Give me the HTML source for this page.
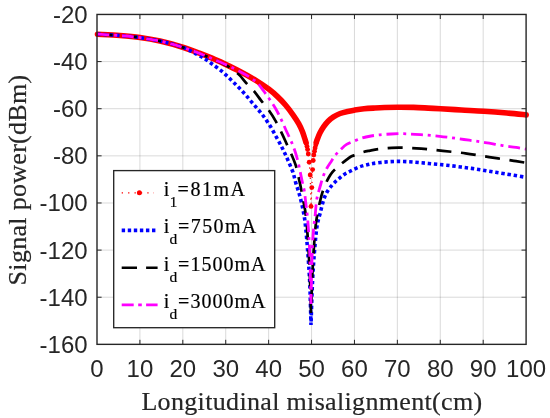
<!DOCTYPE html>
<html><head><meta charset="utf-8"><style>
html,body{margin:0;padding:0;background:#fff;}
svg{display:block;}
</style></head><body>
<svg width="550" height="418" viewBox="0 0 550 418">
<rect width="550" height="418" fill="#fff"/>
<g stroke="#262626" stroke-opacity="0.17" stroke-width="1" fill="none"><line x1="139.91" y1="14" x2="139.91" y2="344.5"/><line x1="182.82" y1="14" x2="182.82" y2="344.5"/><line x1="225.73" y1="14" x2="225.73" y2="344.5"/><line x1="268.64" y1="14" x2="268.64" y2="344.5"/><line x1="311.55" y1="14" x2="311.55" y2="344.5"/><line x1="354.46" y1="14" x2="354.46" y2="344.5"/><line x1="397.37" y1="14" x2="397.37" y2="344.5"/><line x1="440.28" y1="14" x2="440.28" y2="344.5"/><line x1="483.19" y1="14" x2="483.19" y2="344.5"/><line x1="97" y1="61.58" x2="526.1" y2="61.58"/><line x1="97" y1="108.71" x2="526.1" y2="108.71"/><line x1="97" y1="155.84" x2="526.1" y2="155.84"/><line x1="97" y1="202.97" x2="526.1" y2="202.97"/><line x1="97" y1="250.10" x2="526.1" y2="250.10"/><line x1="97" y1="297.23" x2="526.1" y2="297.23"/></g>
<g fill="none" stroke-linecap="butt">
<path d="M97.50,34.20 C101.25,34.42 112.73,34.93 120.00,35.50 C126.87,36.04 133.35,36.57 140.00,37.50 C146.69,38.43 153.10,39.54 160.00,41.10 C167.55,42.80 176.40,45.27 183.50,47.50 C189.53,49.39 194.95,51.49 200.00,53.40 C204.33,55.04 207.94,56.47 212.00,58.20 C216.27,60.02 220.53,62.00 225.00,64.10 C229.84,66.37 235.04,68.81 240.00,71.40 C245.04,74.03 250.15,76.80 255.00,79.80 C259.81,82.77 264.99,86.23 269.00,89.30 C272.27,91.80 274.77,94.01 277.50,96.60 C280.28,99.24 282.95,102.02 285.50,105.00 C288.13,108.07 290.73,111.58 293.00,114.80 C295.09,117.77 297.07,120.67 298.70,123.60 C300.20,126.30 301.48,129.14 302.50,131.70 C303.38,133.90 303.98,136.07 304.60,138.00 C305.12,139.62 305.77,141.75 306.00,142.50" stroke="#ff0000" stroke-width="5.6" stroke-linecap="round" stroke-linejoin="round"/>
<path d="M316.20,142.50 C316.37,142.02 316.76,140.76 317.20,139.60 C317.86,137.84 318.83,135.14 319.90,133.00 C320.99,130.81 322.31,128.59 323.70,126.60 C325.05,124.67 326.47,122.83 328.10,121.20 C329.73,119.57 331.53,118.07 333.50,116.80 C335.52,115.49 337.78,114.39 340.10,113.50 C342.50,112.58 345.20,111.97 347.70,111.40 C350.09,110.85 352.28,110.51 354.80,110.10 C357.66,109.64 360.79,109.14 364.00,108.80 C367.50,108.43 371.47,108.22 375.00,108.00 C378.28,107.79 381.08,107.63 384.50,107.50 C388.52,107.35 393.01,107.22 397.60,107.20 C402.67,107.17 408.39,107.24 413.60,107.40 C418.58,107.55 423.54,107.86 428.20,108.10 C432.48,108.32 435.86,108.53 440.50,108.80 C446.53,109.15 454.24,109.61 461.30,110.00 C468.63,110.41 476.15,110.71 483.70,111.20 C491.42,111.70 499.70,112.35 507.10,113.00 C513.79,113.59 523.02,114.58 526.20,114.90" stroke="#ff0000" stroke-width="5.6" stroke-linecap="round" stroke-linejoin="round"/>
<path d="M309.2,162.2 L310.2,175 L311.0,206.4 L311.8,187.6 L312.6,169.6" stroke="#ff0000" stroke-width="1.2" stroke-dasharray="1.2 4"/>
<g fill="#ff0000" stroke="none"><circle cx="305.6" cy="141.0" r="2.45"/><circle cx="306.3" cy="143.6" r="2.45"/><circle cx="307.0" cy="146.4" r="2.45"/><circle cx="307.6" cy="149.6" r="2.45"/><circle cx="308.3" cy="154.0" r="2.45"/><circle cx="309.2" cy="162.2" r="2.45"/><circle cx="310.2" cy="175" r="2.45"/><circle cx="311.0" cy="206.4" r="2.45"/><circle cx="311.8" cy="187.6" r="2.45"/><circle cx="312.6" cy="169.6" r="2.45"/><circle cx="313.2" cy="160.5" r="2.45"/><circle cx="313.8" cy="155.0" r="2.45"/><circle cx="314.5" cy="151.2" r="2.45"/><circle cx="315.1" cy="148.0" r="2.45"/><circle cx="315.8" cy="145.0" r="2.45"/><circle cx="316.4" cy="142.8" r="2.45"/></g>
<path d="M97.50,34.20 C101.25,34.43 112.73,35.01 120.00,35.60 C126.87,36.16 133.19,36.66 140.00,37.60 C147.18,38.59 154.75,39.83 162.00,41.50 C169.25,43.17 177.24,45.16 183.50,47.60 C188.69,49.62 193.38,52.48 197.20,54.50 C200.00,55.98 202.25,57.15 204.40,58.50 C206.25,59.66 207.74,60.82 209.40,62.00 C211.07,63.19 212.74,64.39 214.40,65.60 C216.07,66.82 217.81,68.05 219.40,69.30 C220.91,70.49 222.28,71.65 223.70,72.90 C225.15,74.18 226.57,75.54 228.00,76.90 C229.44,78.27 230.87,79.69 232.30,81.10 C233.74,82.52 235.16,83.95 236.60,85.40 C238.06,86.88 239.52,88.34 241.00,89.90 C242.55,91.54 244.07,93.15 245.70,95.00 C247.55,97.11 249.56,99.64 251.50,101.90 C253.40,104.11 255.31,106.17 257.20,108.40 C259.15,110.70 261.03,112.87 263.00,115.50 C265.29,118.57 267.85,122.35 270.00,125.80 C272.07,129.12 273.81,132.40 275.70,135.80 C277.64,139.30 279.84,143.27 281.50,146.50 C282.85,149.12 283.84,151.20 285.00,153.70 C286.24,156.36 287.45,159.08 288.70,162.00 C290.08,165.22 291.72,168.72 292.90,172.20 C294.09,175.69 294.74,179.28 295.80,182.90 C296.90,186.67 298.33,190.55 299.40,194.40 C300.46,198.22 301.36,202.06 302.20,205.90 C303.03,209.72 303.80,213.56 304.40,217.40 C305.00,221.20 305.34,224.41 305.80,228.80 C306.42,234.77 307.02,242.32 307.60,250.00 C308.29,259.13 309.06,268.98 309.60,280.00 C310.26,293.48 310.77,317.50 311.00,325.00 C311.27,317.50 311.91,293.48 312.60,280.00 C313.16,268.98 313.77,259.59 314.60,250.00 C315.36,241.15 316.09,231.28 317.30,224.50 C318.12,219.91 319.19,217.03 320.20,213.10 C321.28,208.88 322.39,203.64 323.60,200.00 C324.49,197.30 325.28,195.21 326.40,193.10 C327.44,191.13 328.69,189.41 330.00,187.70 C331.30,186.01 332.71,184.40 334.20,182.90 C335.68,181.40 337.26,180.09 338.90,178.70 C340.62,177.25 342.37,175.67 344.30,174.40 C346.27,173.10 348.51,172.07 350.60,171.00 C352.61,169.97 354.60,168.96 356.60,168.10 C358.53,167.27 360.46,166.50 362.40,165.90 C364.29,165.31 366.28,164.91 368.10,164.50 C369.77,164.12 370.94,163.82 372.90,163.50 C375.92,163.00 380.56,162.45 384.50,162.10 C388.56,161.74 392.77,161.45 396.90,161.40 C401.03,161.35 405.18,161.57 409.30,161.80 C413.41,162.03 417.49,162.43 421.60,162.80 C425.73,163.17 429.87,163.60 434.00,164.00 C438.13,164.40 442.11,164.73 446.40,165.20 C451.05,165.71 456.04,166.37 460.90,167.00 C465.83,167.64 470.84,168.25 475.80,169.00 C480.77,169.75 485.73,170.68 490.70,171.50 C495.67,172.32 500.25,173.02 505.60,173.90 C511.87,174.93 522.60,176.73 526.00,177.30" stroke="#0000ff" stroke-width="3.6" stroke-dasharray="3.4 2.8"/>
<path d="M97.50,34.20 C101.25,34.43 112.73,35.01 120.00,35.60 C126.87,36.16 133.19,36.66 140.00,37.60 C147.18,38.59 154.75,39.83 162.00,41.50 C169.25,43.17 176.38,45.24 183.50,47.60 C190.72,50.00 198.66,53.25 205.00,55.80 C210.10,57.85 214.51,59.64 218.70,61.60 C222.36,63.31 225.64,64.83 228.80,66.80 C231.87,68.71 235.40,71.51 237.40,73.20 C238.56,74.18 238.97,74.60 240.00,75.70 C241.72,77.53 244.19,80.82 246.50,83.40 C248.97,86.15 251.98,88.86 254.40,91.70 C256.73,94.43 258.54,97.18 260.80,100.10 C263.29,103.32 266.22,106.71 268.70,110.20 C271.19,113.71 273.56,117.36 275.70,121.10 C277.83,124.83 279.61,128.67 281.50,132.60 C283.45,136.66 285.42,141.20 287.20,145.10 C288.76,148.54 290.19,151.44 291.60,154.80 C293.09,158.36 294.73,162.13 295.90,165.90 C297.06,169.66 297.75,173.72 298.60,177.40 C299.38,180.80 300.11,183.80 300.80,187.20 C301.55,190.87 302.18,194.87 302.90,198.70 C303.62,202.53 304.50,206.36 305.10,210.20 C305.70,214.02 306.10,217.67 306.50,221.70 C306.94,226.13 307.21,230.00 307.60,235.70 C308.21,244.61 309.05,257.92 309.60,270.00 C310.21,283.52 310.77,305.83 311.00,313.00 C311.27,305.83 311.93,283.52 312.60,270.00 C313.19,257.92 314.18,242.78 314.70,235.70 C314.94,232.52 315.03,231.31 315.30,228.80 C315.63,225.77 316.06,222.24 316.60,218.80 C317.18,215.09 317.99,210.76 318.70,207.30 C319.29,204.44 319.89,201.97 320.50,199.50 C321.06,197.26 321.46,195.43 322.20,193.10 C323.13,190.20 324.58,186.30 325.80,183.50 C326.79,181.24 327.68,179.40 328.80,177.50 C329.89,175.64 331.07,173.78 332.40,172.20 C333.65,170.70 335.11,169.50 336.50,168.20 C337.88,166.90 339.15,165.72 340.70,164.40 C342.50,162.87 344.79,161.02 346.70,159.60 C348.37,158.36 349.87,157.11 351.50,156.30 C352.97,155.57 354.38,155.39 356.00,154.80 C357.95,154.09 360.15,152.99 362.40,152.30 C364.80,151.57 367.38,151.13 370.00,150.60 C372.80,150.03 375.49,149.44 378.70,149.00 C382.61,148.46 387.55,148.01 391.80,147.80 C395.81,147.60 399.50,147.62 403.50,147.70 C407.72,147.78 412.28,148.02 416.50,148.30 C420.51,148.56 424.09,148.90 428.20,149.30 C432.78,149.75 437.33,150.32 442.70,150.90 C449.42,151.63 457.76,152.29 465.40,153.30 C473.25,154.34 481.20,155.86 489.20,157.10 C497.33,158.36 507.03,159.74 513.80,160.80 C518.58,161.55 523.97,162.47 526.00,162.80" stroke="#000" stroke-width="2.7" stroke-dasharray="15 9.5"/>
<path d="M97.50,34.20 C101.25,34.43 112.73,35.01 120.00,35.60 C126.87,36.16 133.19,36.66 140.00,37.60 C147.18,38.59 154.75,39.83 162.00,41.50 C169.25,43.17 176.38,45.27 183.50,47.60 C190.71,49.96 198.67,53.06 205.00,55.60 C210.11,57.65 214.09,59.47 218.70,61.50 C223.45,63.59 228.16,65.53 233.10,68.00 C238.56,70.73 245.64,74.43 250.00,77.30 C253.00,79.27 255.04,80.78 257.20,82.90 C259.38,85.04 261.11,87.62 263.00,90.10 C264.94,92.65 266.74,95.14 268.70,98.00 C270.95,101.27 273.57,105.01 275.70,108.70 C277.84,112.41 279.67,116.39 281.50,120.20 C283.27,123.89 284.79,127.45 286.50,131.20 C288.29,135.11 290.48,139.54 292.00,143.20 C293.24,146.20 294.14,148.58 295.10,151.50 C296.15,154.68 297.16,158.24 298.00,161.60 C298.82,164.88 299.40,168.11 300.10,171.40 C300.81,174.74 301.48,178.14 302.20,181.50 C302.92,184.84 303.81,188.04 304.40,191.50 C305.03,195.19 305.33,199.17 305.80,203.00 C306.27,206.83 306.79,210.55 307.20,214.50 C307.63,218.67 307.95,222.50 308.30,227.40 C308.76,233.88 309.22,240.85 309.60,250.00 C310.19,264.14 310.77,295.00 311.00,304.00 C311.22,295.00 311.69,264.14 312.30,250.00 C312.69,240.85 313.13,233.67 313.70,227.40 C314.11,222.92 314.63,220.10 315.10,215.90 C315.66,210.83 316.03,203.51 316.80,199.10 C317.31,196.18 317.93,194.39 318.60,191.90 C319.32,189.20 320.19,186.24 321.00,183.50 C321.79,180.85 322.41,178.26 323.40,175.70 C324.41,173.09 325.67,170.43 327.00,168.00 C328.28,165.67 329.79,163.55 331.20,161.40 C332.56,159.32 333.75,157.25 335.30,155.30 C336.91,153.28 338.81,151.32 340.70,149.50 C342.58,147.69 344.33,145.84 346.60,144.40 C349.10,142.82 352.45,141.72 355.20,140.60 C357.69,139.58 359.87,138.65 362.40,137.90 C365.11,137.10 368.20,136.51 371.00,136.00 C373.63,135.52 375.82,135.21 378.70,134.90 C382.34,134.51 387.03,134.20 391.10,134.00 C395.03,133.81 398.77,133.66 402.70,133.70 C406.77,133.75 410.97,134.05 415.10,134.30 C419.23,134.55 423.38,134.87 427.50,135.20 C431.61,135.53 435.78,135.87 439.80,136.30 C443.68,136.71 447.30,137.18 451.20,137.70 C455.32,138.25 459.73,138.92 463.90,139.50 C467.93,140.06 471.72,140.51 475.80,141.10 C480.14,141.73 484.73,142.45 489.20,143.20 C493.70,143.95 498.20,144.90 502.70,145.60 C507.17,146.30 511.98,146.75 516.10,147.40 C519.66,147.96 524.35,148.90 526.00,149.20" stroke="#ff00ff" stroke-width="2.8" stroke-dasharray="11.9 4.8 3 4.8"/>
</g>
<g stroke="#262626" stroke-width="1" fill="none">
<rect x="97.0" y="14.45" width="429.1" height="329.9" stroke-width="1.4"/>
<line x1="139.91" y1="344.3" x2="139.91" y2="339.8"/><line x1="139.91" y1="14.5" x2="139.91" y2="19"/><line x1="182.82" y1="344.3" x2="182.82" y2="339.8"/><line x1="182.82" y1="14.5" x2="182.82" y2="19"/><line x1="225.73" y1="344.3" x2="225.73" y2="339.8"/><line x1="225.73" y1="14.5" x2="225.73" y2="19"/><line x1="268.64" y1="344.3" x2="268.64" y2="339.8"/><line x1="268.64" y1="14.5" x2="268.64" y2="19"/><line x1="311.55" y1="344.3" x2="311.55" y2="339.8"/><line x1="311.55" y1="14.5" x2="311.55" y2="19"/><line x1="354.46" y1="344.3" x2="354.46" y2="339.8"/><line x1="354.46" y1="14.5" x2="354.46" y2="19"/><line x1="397.37" y1="344.3" x2="397.37" y2="339.8"/><line x1="397.37" y1="14.5" x2="397.37" y2="19"/><line x1="440.28" y1="344.3" x2="440.28" y2="339.8"/><line x1="440.28" y1="14.5" x2="440.28" y2="19"/><line x1="483.19" y1="344.3" x2="483.19" y2="339.8"/><line x1="483.19" y1="14.5" x2="483.19" y2="19"/><line x1="97" y1="61.58" x2="101.6" y2="61.58"/><line x1="526.1" y1="61.58" x2="521.5" y2="61.58"/><line x1="97" y1="108.71" x2="101.6" y2="108.71"/><line x1="526.1" y1="108.71" x2="521.5" y2="108.71"/><line x1="97" y1="155.84" x2="101.6" y2="155.84"/><line x1="526.1" y1="155.84" x2="521.5" y2="155.84"/><line x1="97" y1="202.97" x2="101.6" y2="202.97"/><line x1="526.1" y1="202.97" x2="521.5" y2="202.97"/><line x1="97" y1="250.10" x2="101.6" y2="250.10"/><line x1="526.1" y1="250.10" x2="521.5" y2="250.10"/><line x1="97" y1="297.23" x2="101.6" y2="297.23"/><line x1="526.1" y1="297.23" x2="521.5" y2="297.23"/>
</g>
<g font-family="Liberation Sans, Arial, sans-serif" font-size="24" fill="#262626">
<g text-anchor="middle"><text x="97.00" y="377">0</text><text x="139.91" y="377">10</text><text x="182.82" y="377">20</text><text x="225.73" y="377">30</text><text x="268.64" y="377">40</text><text x="311.55" y="377">50</text><text x="354.46" y="377">60</text><text x="397.37" y="377">70</text><text x="440.28" y="377">80</text><text x="483.19" y="377">90</text><text x="526.10" y="377">100</text></g>
<g text-anchor="end"><text x="87.6" y="22.95">-20</text><text x="87.6" y="70.08">-40</text><text x="87.6" y="117.21">-60</text><text x="87.6" y="164.34">-80</text><text x="87.6" y="211.47">-100</text><text x="87.6" y="258.60">-120</text><text x="87.6" y="305.73">-140</text><text x="87.6" y="352.86">-160</text></g>
</g>
<g font-family="Liberation Serif, Times New Roman, serif" font-size="26" fill="#262626" stroke="#262626" stroke-width="0.2" text-anchor="middle">
<text x="311.8" y="409.8" textLength="340.8" lengthAdjust="spacing">Longitudinal misalignment(cm)</text>
<text transform="translate(25.8,180.1) rotate(-90)" x="0" y="0" textLength="210.6" lengthAdjust="spacing">Signal power(dBm)</text>
</g>
<!-- legend -->
<rect x="113.7" y="170.6" width="161" height="157.1" fill="#fff" stroke="#262626" stroke-width="1.35"/>
<g fill="none">
<line x1="121.7" y1="192.8" x2="154" y2="192.8" stroke="#ff0000" stroke-width="1.3" stroke-dasharray="1.3 5.1" />
<circle cx="139.4" cy="192.8" r="2.5" fill="#ff0000"/>
<line x1="121.7" y1="230.4" x2="155.4" y2="230.4" stroke="#0000ff" stroke-width="3.6" stroke-dasharray="3.4 2.66"/>
<line x1="121.7" y1="267.7" x2="157.6" y2="267.7" stroke="#000" stroke-width="2.6" stroke-dasharray="15.3 9.1"/>
<line x1="121.7" y1="304.9" x2="157.6" y2="304.9" stroke="#ff00ff" stroke-width="2.6" stroke-dasharray="12 4.5 3.6 4.3"/>
</g>
<g font-family="Liberation Serif, Times New Roman, serif" fill="#000" stroke="#000" stroke-width="0.2">
<text x="163.7" y="196.1" font-size="20">i</text><text x="169.8" y="207.1" font-size="15">1</text><text x="177.6" y="196.1" font-size="20" textLength="67.3" lengthAdjust="spacing">=81mA</text>
<text x="163.7" y="233.3" font-size="20">i</text><text x="169.5" y="244.3" font-size="15.5">d</text><text x="178.1" y="233.3" font-size="20" textLength="78.2" lengthAdjust="spacing">=750mA</text>
<text x="163.7" y="270.6" font-size="20">i</text><text x="169.5" y="281.6" font-size="15.5">d</text><text x="178.1" y="270.6" font-size="20" textLength="87.3" lengthAdjust="spacing">=1500mA</text>
<text x="163.7" y="307.8" font-size="20">i</text><text x="169.5" y="318.8" font-size="15.5">d</text><text x="178.1" y="307.8" font-size="20" textLength="87.3" lengthAdjust="spacing">=3000mA</text>
</g>
</svg>
</body></html>
